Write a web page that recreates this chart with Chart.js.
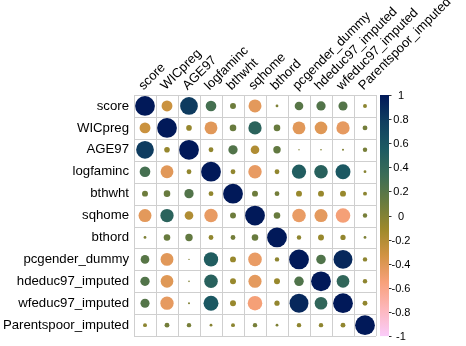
<!DOCTYPE html>
<html>
<head>
<meta charset="utf-8">
<script src="https://cdn.jsdelivr.net/npm/chart.js@4/dist/chart.umd.min.js"></script>
<style>
  html, body { margin: 0; padding: 0; background: #ffffff; }
  #wrap { width: 466px; height: 346px; position: relative; }
</style>
</head>
<body>
<div id="wrap"><canvas id="corr"></canvas></div>
<script>
// Variables (same order for rows and columns)
const variables = ['score', 'WICpreg', 'AGE97', 'logfaminc', 'bthwht', 'sqhome', 'bthord',
  'pcgender_dummy', 'hdeduc97_imputed', 'wfeduc97_imputed', 'Parentspoor_imputed'];

// Correlation matrix, one row per variable
const r_score        = [ 1.00, -0.30,  0.80,  0.29,  0.09, -0.43,  0.02,  0.19,  0.22,  0.21, -0.04];
const r_WICpreg      = [-0.30,  1.00, -0.08, -0.42,  0.11,  0.45,  0.11, -0.42, -0.41, -0.45,  0.06];
const r_AGE97        = [ 0.80, -0.08,  1.00, -0.06,  0.22, -0.19,  0.14,  0.005, 0.007, 0.01,  0.05];
const r_logfaminc    = [ 0.29, -0.42, -0.06,  1.00, -0.06, -0.46, -0.06,  0.52,  0.47,  0.57, -0.02];
const r_bthwht       = [ 0.09,  0.11,  0.22, -0.06,  1.00,  0.09,  0.06, -0.09, -0.09, -0.09, -0.04];
const r_sqhome       = [-0.43,  0.45, -0.19, -0.46,  0.09,  1.00,  0.11, -0.47, -0.44, -0.54,  0.05];
const r_bthord       = [ 0.02,  0.11,  0.14, -0.06,  0.06,  0.11,  1.00, -0.05, -0.09, -0.07,  0.02];
const r_pcgender     = [ 0.19, -0.42,  0.005, 0.52, -0.09, -0.47, -0.05,  1.00,  0.23,  0.91, -0.05];
const r_hdeduc       = [ 0.22, -0.41,  0.007, 0.47, -0.09, -0.44, -0.09,  0.23,  1.00,  0.41, -0.05];
const r_wfeduc       = [ 0.21, -0.45,  0.01,  0.57, -0.09, -0.54, -0.07,  0.91,  0.41,  1.00, -0.06];
const r_parentspoor  = [-0.04,  0.06,  0.05, -0.02, -0.04,  0.05,  0.02, -0.05, -0.05, -0.06,  1.00];

const corrRows = [r_score, r_WICpreg, r_AGE97, r_logfaminc, r_bthwht, r_sqhome, r_bthord,
  r_pcgender, r_hdeduc, r_wfeduc, r_parentspoor];

// Colour legend tick labels
const colorbarTicks = [1, 0.8, 0.6, 0.4, 0.2, 0, -0.2, -0.4, -0.6, -0.8, -1];

// Diverging palette, from +1 (first) to -1 (last)
const palette = ['#011959', '#103F60', '#1C5A62', '#3C6D56', '#687B3E',
  '#9D892B', '#D29343', '#F8A17B', '#FDB7BC', '#FACCFA'];

function hexToRgb(h) {
  const n = parseInt(h.slice(1), 16);
  return [(n >> 16) & 255, (n >> 8) & 255, n & 255];
}
const paletteRgb = palette.map(hexToRgb);

function colorFor(v) {
  const t = Math.min(1, Math.max(0, (1 - v) / 2)) * (paletteRgb.length - 1);
  const i = Math.min(paletteRgb.length - 2, Math.floor(t));
  const f = t - i;
  const a = paletteRgb[i], b = paletteRgb[i + 1];
  const c = a.map((x, k) => Math.round(x + (b[k] - x) * f));
  return `rgb(${c[0]},${c[1]},${c[2]})`;
}

// One bubble per cell
const cells = [];
corrRows.forEach((row, i) => {
  row.forEach((v, j) => {
    cells.push({ x: variables[j], y: variables[i], v: v });
  });
});

const FONT = '"Liberation Sans", Arial, Helvetica, sans-serif';

// Cell grid behind the circles
const gridPlugin = {
  id: 'cellGrid',
  beforeDatasetsDraw(chart) {
    const { ctx, chartArea, scales } = chart;
    const xs = scales.x, ys = scales.y;
    const n = variables.length;
    const stepX = (xs.getPixelForValue(1) - xs.getPixelForValue(0));
    const stepY = (ys.getPixelForValue(1) - ys.getPixelForValue(0));
    ctx.save();
    ctx.strokeStyle = '#cfcfcf';
    ctx.lineWidth = 1;
    ctx.beginPath();
    for (let k = 0; k <= n; k++) {
      const x = Math.round(xs.getPixelForValue(0) - stepX / 2 + k * stepX) + 0.5;
      ctx.moveTo(x, chartArea.top);
      ctx.lineTo(x, chartArea.bottom);
      const y = Math.round(ys.getPixelForValue(0) - stepY / 2 + k * stepY) + 0.5;
      ctx.moveTo(chartArea.left, y);
      ctx.lineTo(chartArea.right, y);
    }
    ctx.stroke();
    ctx.restore();
  }
};

// Variable names on the left and rotated along the top, plus the colour legend
const labelPlugin = {
  id: 'labelsAndLegend',
  afterDraw(chart) {
    const { ctx, chartArea, scales } = chart;
    const xs = scales.x, ys = scales.y, cb = scales.cbar;
    ctx.save();
    ctx.fillStyle = '#000000';
    ctx.font = '13.2px ' + FONT;

    // row labels
    ctx.textAlign = 'right';
    ctx.textBaseline = 'middle';
    variables.forEach((name, i) => {
      ctx.fillText(name, chartArea.left - 5, ys.getPixelForValue(i));
    });

    // column labels
    ctx.font = '13px ' + FONT;
    ctx.textAlign = 'left';
    ctx.textBaseline = 'alphabetic';
    variables.forEach((name, j) => {
      ctx.save();
      ctx.translate(xs.getPixelForValue(j) - 1.5, chartArea.top - 4.5);
      ctx.rotate(-Math.PI / 4);
      ctx.fillText(name, 0, 0);
      ctx.restore();
    });

    // colour bar
    const barX = chartArea.right + 4;
    const barW = 9;
    const yTop = cb.getPixelForValue(1);
    const yBot = cb.getPixelForValue(-1);
    const grad = ctx.createLinearGradient(0, yTop, 0, yBot);
    palette.forEach((c, k) => grad.addColorStop(k / (palette.length - 1), c));
    ctx.fillStyle = grad;
    ctx.fillRect(barX, yTop, barW, yBot - yTop);

    ctx.strokeStyle = '#333333';
    ctx.lineWidth = 1;
    ctx.fillStyle = '#000000';
    ctx.font = '11px ' + FONT;
    ctx.textAlign = 'center';
    ctx.textBaseline = 'middle';
    colorbarTicks.forEach((t) => {
      const y = Math.round(cb.getPixelForValue(t)) + 0.5;
      ctx.beginPath();
      ctx.moveTo(barX + barW, y);
      ctx.lineTo(barX + barW + 2.5, y);
      ctx.stroke();
      ctx.fillText(String(t), barX + barW + 12, y);
    });
    ctx.restore();
  }
};

new Chart(document.getElementById('corr'), {
  type: 'bubble',
  data: {
    datasets: [{
      data: cells,
      radius: (ctx) => 9.9 * Math.sqrt(Math.abs(ctx.raw.v)),
      backgroundColor: (ctx) => colorFor(ctx.raw.v),
      borderWidth: 0,
      hoverRadius: 0,
      hoverBorderWidth: 0
    }]
  },
  options: {
    responsive: true,
    maintainAspectRatio: false,
    animation: false,
    events: [],
    layout: { padding: { left: 134, top: 95, right: 90, bottom: 9 } },
    plugins: { legend: { display: false }, tooltip: { enabled: false } },
    scales: {
      x: { type: 'category', labels: variables, offset: true, display: false },
      y: { type: 'category', labels: variables, offset: true, display: false },
      cbar: { type: 'linear', axis: 'y', position: 'right', min: -1, max: 1, display: false }
    }
  },
  plugins: [gridPlugin, labelPlugin]
});
</script>
</body>
</html>
